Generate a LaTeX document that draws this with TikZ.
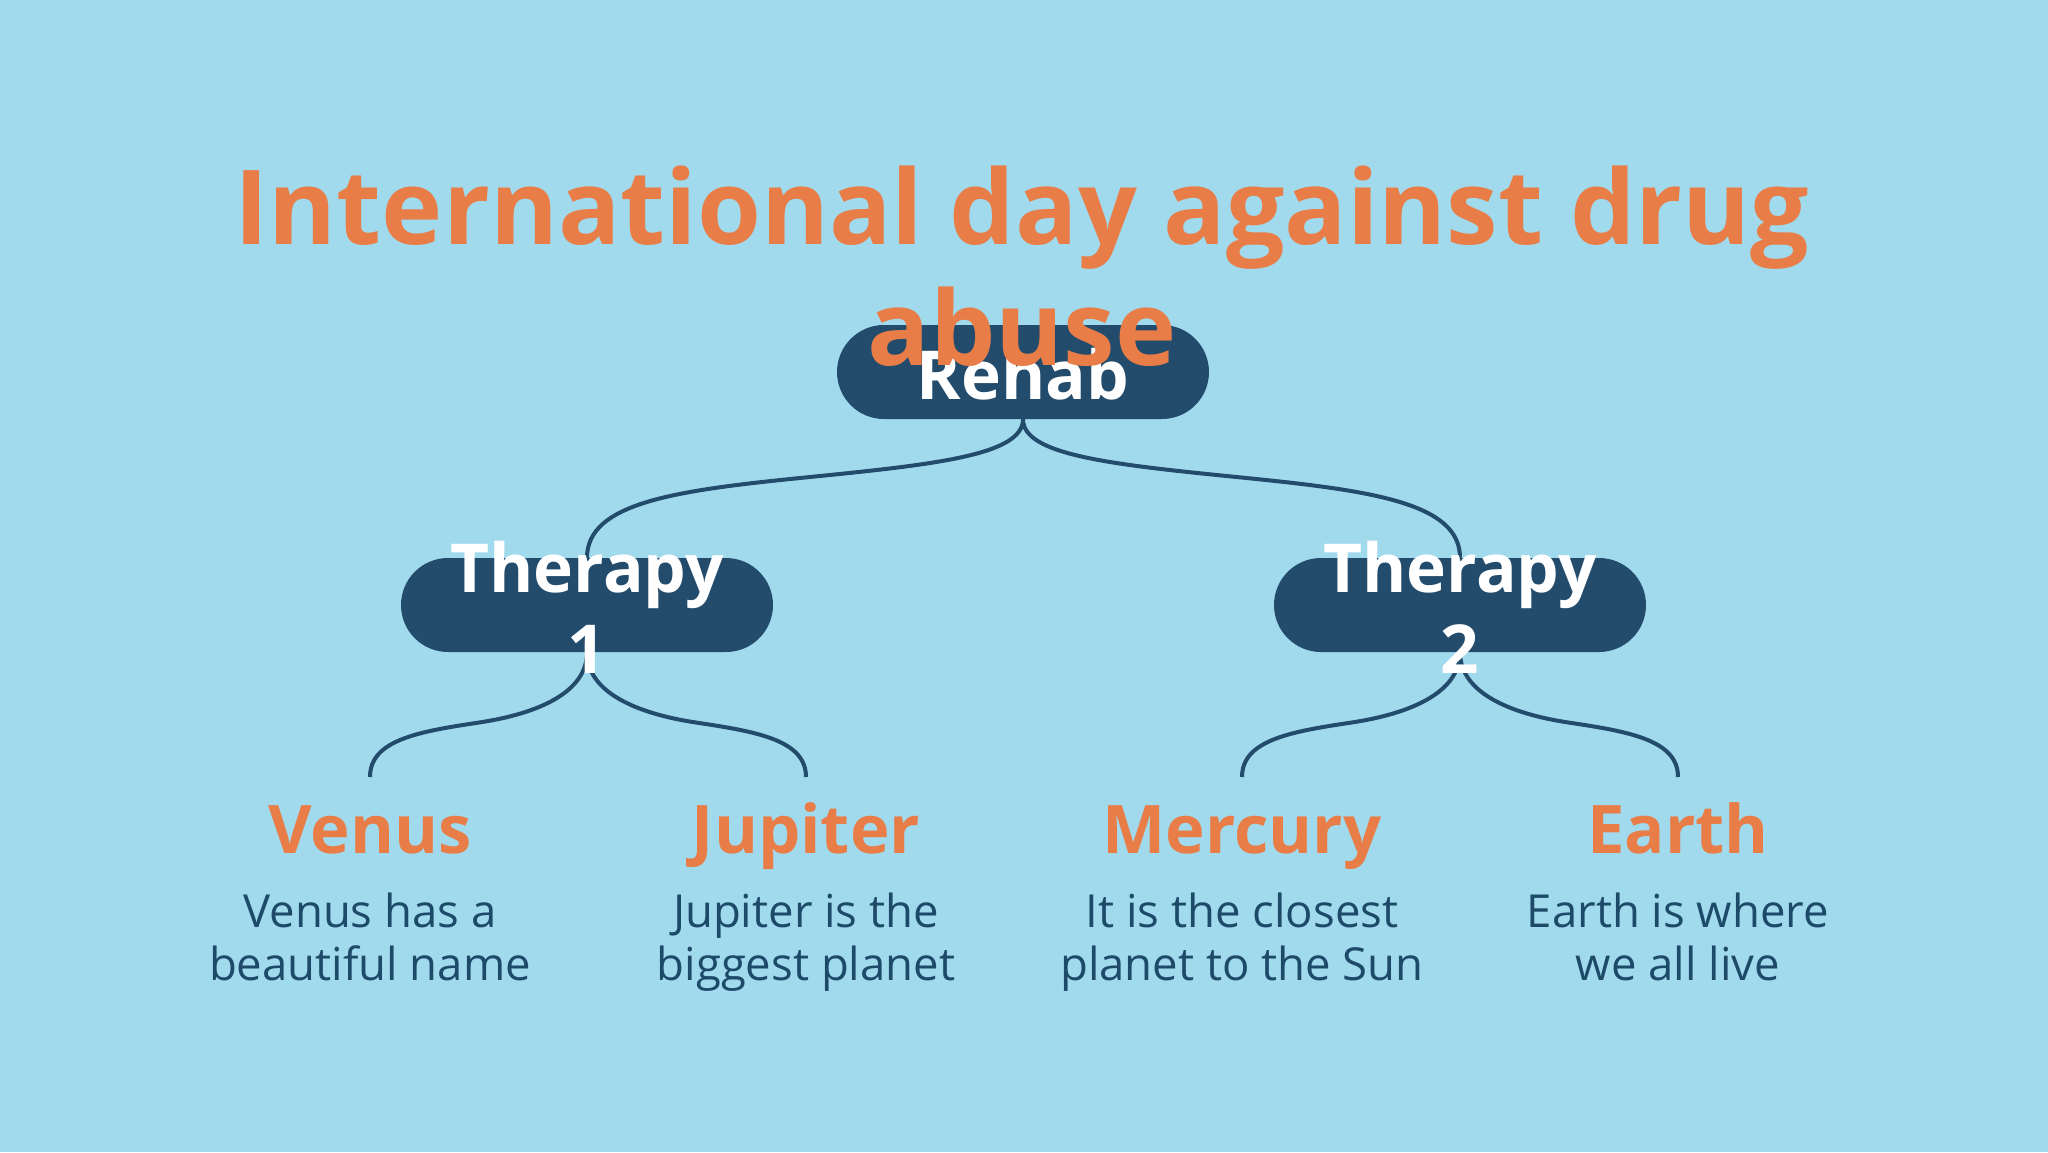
\documentclass[tikz,border=0pt]{standalone}
\usepackage{fontspec}
\setmainfont{Open Sans}
\usetikzlibrary{calc}
\definecolor{bgblue}{HTML}{A2DAED}
\definecolor{navy}{HTML}{234B6B}
\definecolor{orangeT}{HTML}{E97D47}
\definecolor{desctext}{HTML}{1E4A6A}
\tikzset{
  pill/.style={fill=navy, rounded corners=47pt, minimum width=372pt, minimum height=94pt, inner sep=0pt},
  pilltext/.style={text=white, font=\bfseries\fontsize{67.5}{81}\selectfont, align=center, inner sep=0pt},
  heading/.style={text=orangeT, font=\bfseries\fontsize{67}{78}\selectfont, inner sep=0pt, anchor=base},
  desc/.style={text=desctext, font=\fontsize{45.5}{53}\selectfont, align=center, inner sep=0pt, anchor=base},
  titletext/.style={text=orangeT, font=\bfseries\fontsize{103.5}{121}\selectfont, align=center, inner sep=0pt, anchor=base},
  conn/.style={draw=navy, line width=4pt}
}
\begin{document}
\begin{tikzpicture}[x=1pt,y=-1pt]
\fill[bgblue] (0,0) rectangle (2048,1152);
\useasboundingbox (0,0) rectangle (2048,1152);

% boxes
\node[pill] (rehab) at (1023,372) {};
\node[pill] (t1) at (587,605) {};
\node[pill] (t2) at (1460,605) {};

% headings
\node[heading] (venus) at (370,853) {Venus};
\node[heading] (jupiter) at (806,853) {Jupiter};
\node[heading] (mercury) at (1242,853) {Mercury};
\node[heading] (earth) at (1678,853) {Earth};

% descriptions (anchor = baseline of last line)
\node[desc] (venusd) at (370,980) {Venus has a\\beautiful name};
\node[desc] (jupiterd) at (806,980) {Jupiter is the\\biggest planet};
\node[desc] (mercuryd) at (1242,980) {It is the closest\\planet to the Sun};
\node[desc] (earthd) at (1678,980) {Earth is where\\we all live};

% connector free ends above headings
\coordinate (venusTop) at ($(venus.base)+(0,-76)$);
\coordinate (jupiterTop) at ($(jupiter.base)+(0,-76)$);
\coordinate (mercuryTop) at ($(mercury.base)+(0,-76)$);
\coordinate (earthTop) at ($(earth.base)+(0,-76)$);

% upper connectors
\coordinate (m1) at ($(rehab.south)!0.5!(t1.north)+(0,-11)$);
\coordinate (m2) at ($(rehab.south)!0.5!(t2.north)+(0,-11)$);
\draw[conn] (rehab.south) .. controls +(0,36) and +(130,-13) .. (m1)
  .. controls +(-130,13) and +(0,-55) .. (t1.north);
\draw[conn] (rehab.south) .. controls +(0,36) and +(-130,-13) .. (m2)
  .. controls +(130,13) and +(0,-55) .. (t2.north);

% lower connectors
\coordinate (m3) at ($(t1.south)!0.5!(venusTop)+(0,8)$);
\coordinate (m4) at ($(t1.south)!0.5!(jupiterTop)+(0,8)$);
\coordinate (m5) at ($(t2.south)!0.5!(mercuryTop)+(0,8)$);
\coordinate (m6) at ($(t2.south)!0.5!(earthTop)+(0,8)$);
\draw[conn] (t1.south) .. controls +(0,40) and +(60,-9) .. (m3)
  .. controls +(-60,9) and +(0,-37) .. (venusTop);
\draw[conn] (t1.south) .. controls +(0,40) and +(-60,-9) .. (m4)
  .. controls +(60,9) and +(0,-37) .. (jupiterTop);
\draw[conn] (t2.south) .. controls +(0,40) and +(60,-9) .. (m5)
  .. controls +(-60,9) and +(0,-37) .. (mercuryTop);
\draw[conn] (t2.south) .. controls +(0,40) and +(-60,-9) .. (m6)
  .. controls +(60,9) and +(0,-37) .. (earthTop);

% box labels
\node[pilltext, anchor=base] (rehabtxt) at (1023,399) {Rehab};
\node[pilltext, anchor=base] (t1txt) at (587,673) {Therapy\\1};
\node[pilltext, anchor=base] (t2txt) at (1460,673) {Therapy\\2};

% title (drawn on top)
\node[titletext] (title) at (1022,365) {International day against drug\\abuse};
\end{tikzpicture}
\end{document}
